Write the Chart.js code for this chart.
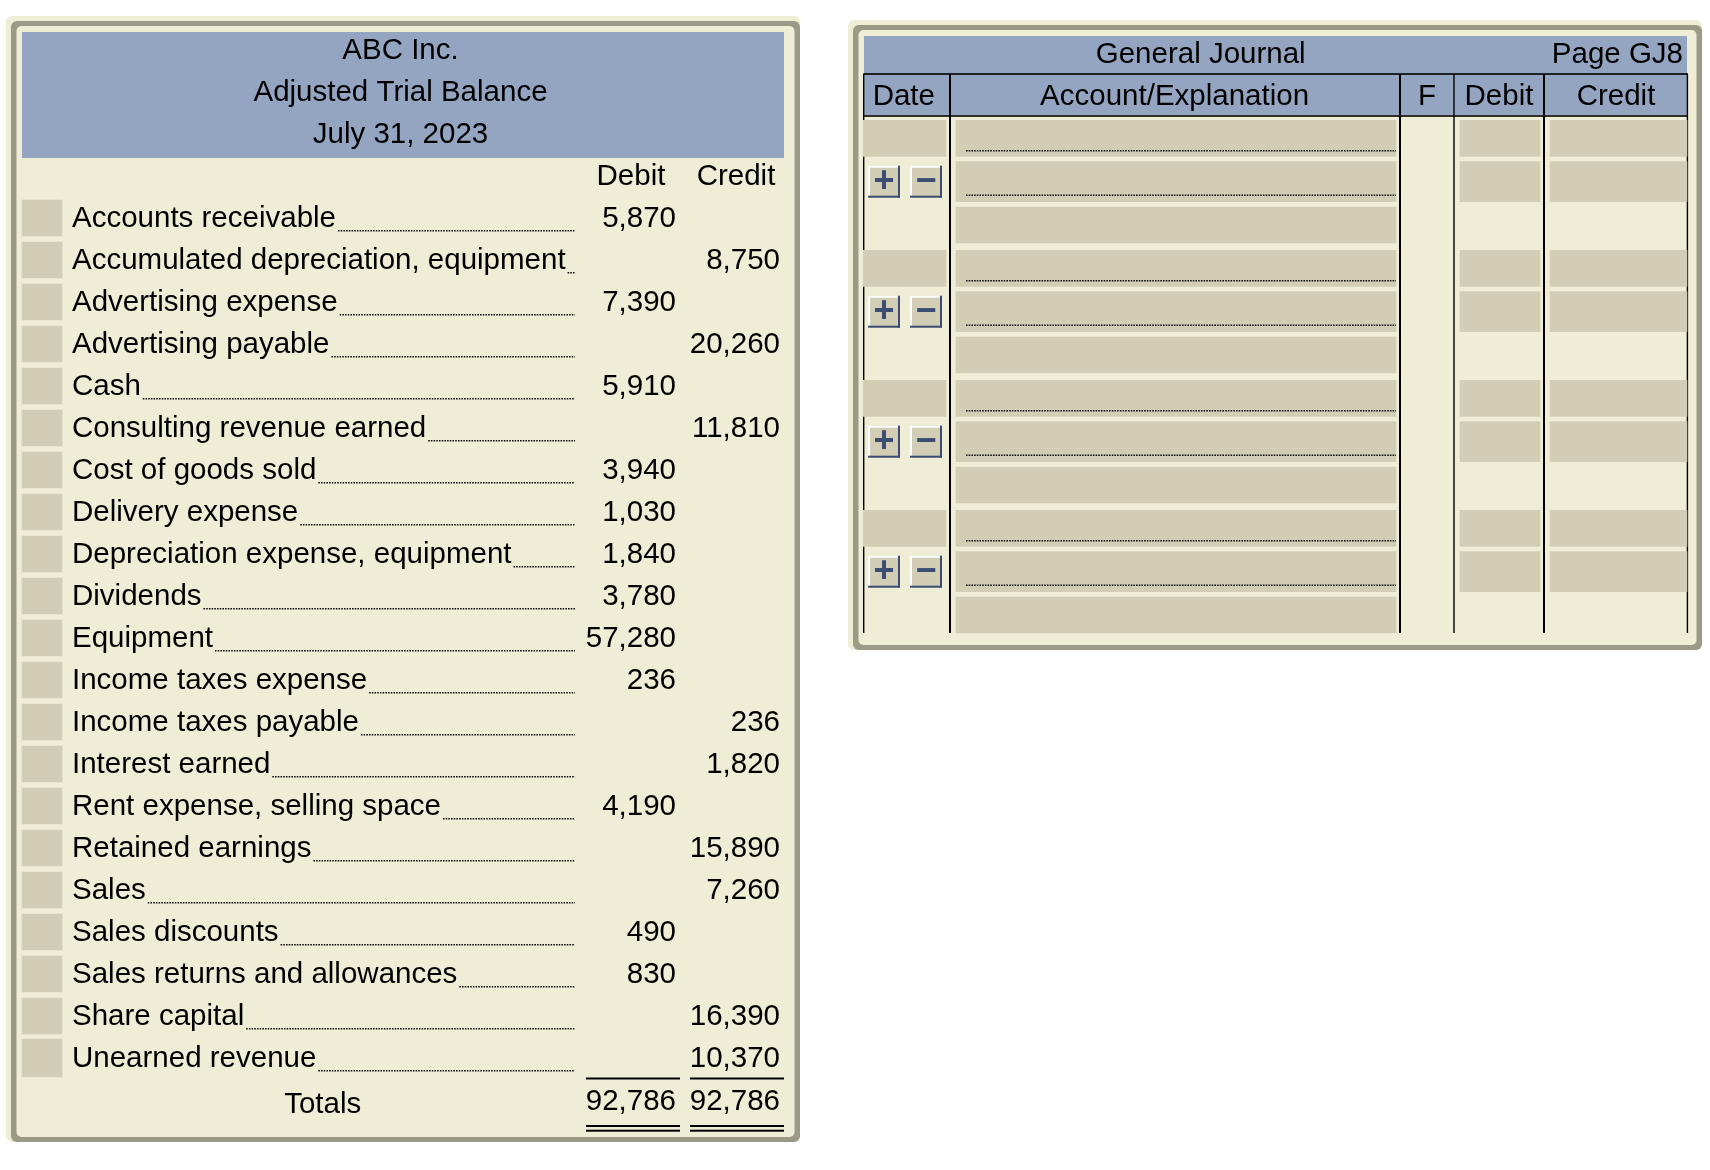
<!DOCTYPE html>
<html>
<head>
<meta charset="utf-8">
<title>Adjusted Trial Balance</title>
<script src="https://cdn.jsdelivr.net/npm/chart.js@4/dist/chart.umd.min.js"></script>
<style>
  html, body { margin: 0; padding: 0; background: #fff; }
  canvas { position: absolute; top: 0; }
  #balance { left: 0; }
  #journal { left: 840px; }
</style>
</head>
<body>
<canvas id="balance" width="820" height="1170"></canvas>
<canvas id="journal" width="870" height="1170"></canvas>
<script>
var balanceTitle = ['ABC Inc.', 'Adjusted Trial Balance', 'July 31, 2023'];
var accounts = ['Accounts receivable', 'Accumulated depreciation, equipment', 'Advertising expense', 'Advertising payable', 'Cash', 'Consulting revenue earned', 'Cost of goods sold', 'Delivery expense', 'Depreciation expense, equipment', 'Dividends', 'Equipment', 'Income taxes expense', 'Income taxes payable', 'Interest earned', 'Rent expense, selling space', 'Retained earnings', 'Sales', 'Sales discounts', 'Sales returns and allowances', 'Share capital', 'Unearned revenue'];
var debits = [5870, null, 7390, null, 5910, null, 3940, 1030, 1840, 3780, 57280, 236, null, null, 4190, null, null, 490, 830, null, null];
var credits = [null, 8750, null, 20260, null, 11810, null, null, null, null, null, null, 236, 1820, null, 15890, 7260, null, null, 16390, 10370];
var totalLabel = 'Totals';
var totalDebit = 92786;
var totalCredit = 92786;

var journalRows = ['', '', '', '', '', '', '', '', '', '', '', ''];
var dateRows = [0, 3, 6, 9];
var entryRows = [1, 4, 7, 10];
var explanationRows = [2, 5, 8, 11];
var journalColumns = ['Date', 'Account/Explanation', 'F', 'Debit', 'Credit'];

var FONT = '"Liberation Sans", Arial, sans-serif';
var TEXT_SIZE = 29.5;
var LIGHT = '#efedd5';
var DARK = '#9a9a86';
var BLUE = '#93a5c1';
var CELL = '#d1ceb5';
var INK = '#000';
var BTN_INK = '#3b4d72';

function money(v) {
  return v.toLocaleString('en-US');
}

function text(c, s, x, y, align, size) {
  c.font = (size || TEXT_SIZE) + 'px ' + FONT;
  c.fillStyle = INK;
  c.textAlign = align || 'left';
  c.textBaseline = 'alphabetic';
  c.fillText(s, x, y);
}

function rule(c, x1, x2, y, w) {
  c.fillStyle = INK;
  c.fillRect(x1, y - w / 2, x2 - x1, w);
}

function leader(c, x1, x2, y) {
  c.save();
  c.strokeStyle = INK;
  c.lineWidth = 1.5;
  c.setLineDash([1.5, 1.2]);
  c.beginPath();
  c.moveTo(x1, y);
  c.lineTo(x2, y);
  c.stroke();
  c.restore();
}

function box(c, x1, y1, x2, y2, r, color) {
  c.fillStyle = color;
  c.beginPath();
  c.roundRect(x1, y1, x2 - x1, y2 - y1, r);
  c.fill();
}

// outer light edge, dark shadow, then the sheet itself
function panel(c, x1, y1, x2, y2) {
  box(c, x1, y1, x2, y2, 6, LIGHT);
  box(c, x1 + 5, y1 + 5, x2, y2, 6, DARK);
  box(c, x1 + 10.5, y1 + 10, x2 - 5.5, y2 - 5, 5, LIGHT);
}

function cells(rows, span) {
  return journalRows.map(function(r, i) {
    return rows.indexOf(i) >= 0 ? span : null;
  });
}

function bars(data, thickness) {
  return { data: data, backgroundColor: CELL, barThickness: thickness, grouped: false };
}

function sheetOptions(xMin, xMax, top, bottom) {
  return {
    responsive: false,
    animation: false,
    devicePixelRatio: 1,
    indexAxis: 'y',
    layout: { padding: { left: 0, right: 0, top: top, bottom: bottom } },
    plugins: { legend: { display: false }, tooltip: { enabled: false }, title: { display: false } },
    scales: {
      x: { type: 'linear', min: xMin, max: xMax, display: false },
      y: { type: 'category', display: false }
    }
  };
}

var balancePlugin = {
  id: 'balancePlugin',
  beforeDatasetsDraw: function(chart) {
    var c = chart.ctx;
    var x = chart.scales.x;
    panel(c, 6, 16, 800, 1142);
    c.fillStyle = BLUE;
    c.fillRect(22, 32, 762, 126);
  },
  afterDatasetsDraw: function(chart) {
    var c = chart.ctx;
    var x = chart.scales.x;
    var y = chart.scales.y;
    var labelX = x.getPixelForValue(72);
    var leaderEnd = x.getPixelForValue(575);
    var debitRight = x.getPixelForValue(676);
    var creditRight = x.getPixelForValue(780);

    balanceTitle.forEach(function(line, i) {
      text(c, line, x.getPixelForValue(400.5), 59 + i * 42, 'center');
    });
    text(c, journalColumns[3], x.getPixelForValue(631), 185, 'center');
    text(c, journalColumns[4], x.getPixelForValue(736), 185, 'center');

    accounts.forEach(function(name, i) {
      var base = y.getPixelForValue(i) + 8.7;
      text(c, name, labelX, base);
      var end = labelX + c.measureText(name).width + 2;
      if(end < leaderEnd - 4) {
        leader(c, end, leaderEnd, base + 4);
      }
      if(debits[i] !== null) {
        text(c, money(debits[i]), debitRight, base, 'right');
      }
      if(credits[i] !== null) {
        text(c, money(credits[i]), creditRight, base, 'right');
      }
    });

    var last = y.getPixelForValue(accounts.length - 1);
    text(c, totalLabel, x.getPixelForValue(322.7), last + 54.7, 'center');
    text(c, money(totalDebit), debitRight, last + 52, 'right');
    text(c, money(totalCredit), creditRight, last + 52, 'right');
    [[586, 680], [690, 784]].forEach(function(col) {
      var a = x.getPixelForValue(col[0]);
      var b = x.getPixelForValue(col[1]);
      rule(c, a, b, last + 20.5, 2);
      rule(c, a, b, last + 68, 2);
      rule(c, a, b, last + 72.7, 2);
    });
  }
};

function button(c, x1, y1, glyph) {
  c.fillStyle = CELL;
  c.fillRect(x1, y1, 32, 32);
  c.fillStyle = '#fff';
  c.fillRect(x1, y1, 32, 2);
  c.fillRect(x1, y1, 2, 32);
  c.fillStyle = BTN_INK;
  c.fillRect(x1, y1 + 30, 32, 2);
  c.fillRect(x1 + 30, y1, 2, 32);
  c.font = 'bold 36px ' + FONT;
  c.fillStyle = BTN_INK;
  c.textAlign = 'center';
  c.textBaseline = 'middle';
  c.fillText(glyph, x1 + 16, y1 + 16);
}

var journalPlugin = {
  id: 'journalPlugin',
  beforeDatasetsDraw: function(chart) {
    var c = chart.ctx;
    var x = chart.scales.x;
    function px(v) { return x.getPixelForValue(v) ; }
    panel(c, px(848), 20, px(1702), 650);
    c.fillStyle = BLUE;
    c.fillRect(px(864), 36, px(1687) - px(864), 79);
    rule(c, px(863.3), px(1688), 74, 1.6);
    rule(c, px(863.3), px(1688), 116, 1.6);
    [[863.7, 1.4], [950, 2], [1400, 2], [1454, 1.4], [1544, 2], [1687.4, 1.4]].forEach(function(line) {
      c.fillStyle = INK;
      c.fillRect(px(line[0]) - line[1] / 2, 74, line[1], 559);
    });
  },
  afterDatasetsDraw: function(chart) {
    var c = chart.ctx;
    var x = chart.scales.x;
    var y = chart.scales.y;
    function px(v) { return x.getPixelForValue(v); }

    text(c, 'General Journal', px(1200.7), 63, 'center');
    text(c, 'Page GJ8', px(1683), 63, 'right');
    [903.8, 1174.6, 1427, 1499, 1616].forEach(function(pos, i) {
      text(c, journalColumns[i], px(pos), 105, 'center');
    });

    dateRows.forEach(function(row) {
      leader(c, px(966), px(1396), y.getPixelForValue(row) + 12.5);
    });
    entryRows.forEach(function(row) {
      var mid = y.getPixelForValue(row);
      leader(c, px(966), px(1396), mid + 13.5);
      button(c, px(868), mid - 16, '+');
      button(c, px(910), mid - 16, '\u2212');
    });
  }
};

new Chart(document.getElementById('balance'), {
  type: 'bar',
  data: {
    labels: accounts,
    datasets: [
      { data: accounts.map(function(a, i) { return i < accounts.length - 1 ? [22, 62] : null; }), backgroundColor: CELL, barThickness: 36, grouped: false },
      { data: accounts.map(function(a, i) { return i === accounts.length - 1 ? [22, 62] : null; }), backgroundColor: CELL, barThickness: 38, grouped: false }
    ]
  },
  options: sheetOptions(0, 820, 197, 91),
  plugins: [balancePlugin]
});

new Chart(document.getElementById('journal'), {
  type: 'bar',
  data: {
    labels: journalRows,
    datasets: [
      bars(cells(dateRows, [863.3, 946]), 36),
      bars(cells(dateRows, [956, 1396]), 36),
      bars(cells(explanationRows, [956, 1396]), 36),
      bars(cells(entryRows, [956, 1396]), 40),
      bars(cells(dateRows, [1460, 1540]), 36),
      bars(cells(entryRows, [1460, 1540]), 40),
      bars(cells(dateRows, [1550, 1687]), 36),
      bars(cells(entryRows, [1550, 1687]), 40)
    ]
  },
  options: sheetOptions(840, 1710, 116.7, 533.3),
  plugins: [journalPlugin]
});
</script>
</body>
</html>
